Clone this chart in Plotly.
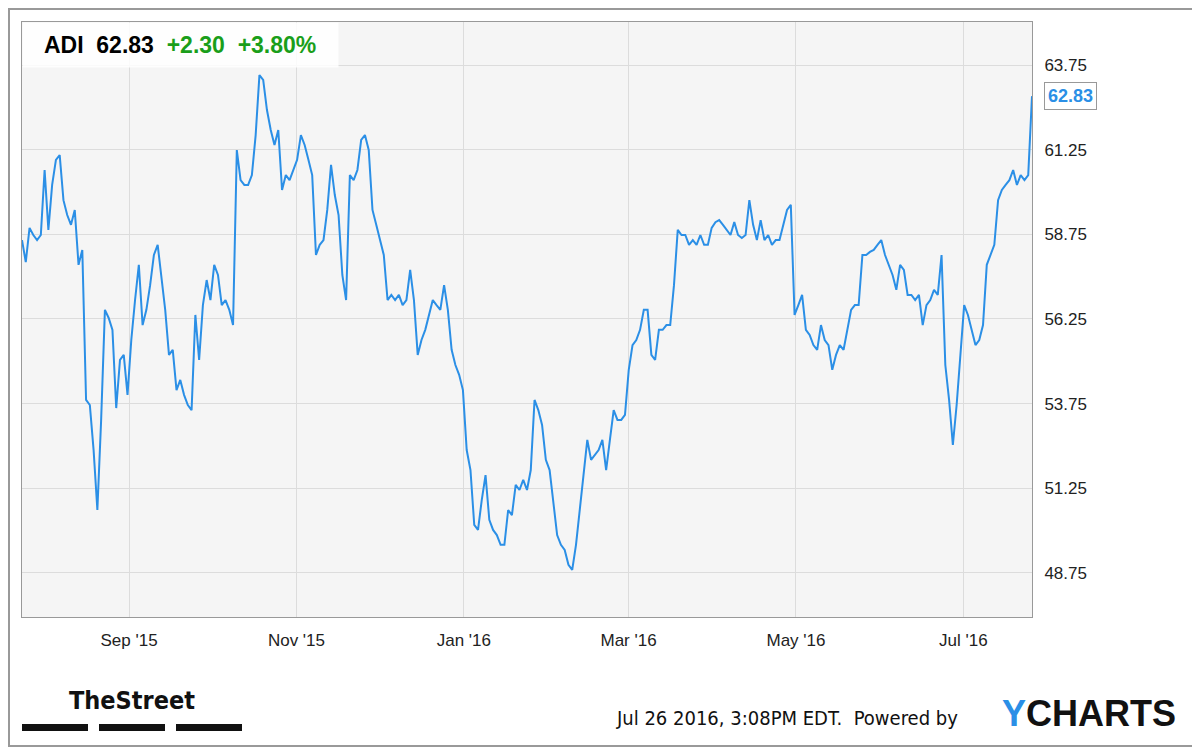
import pandas as pd
import plotly.graph_objects as go

values = [58.58,57.93,58.94,58.73,58.58,58.73,60.65,58.88,60.21,60.95,61.09,59.76,59.32,59.03,59.47,57.85,58.29,53.86,53.71,52.38,50.61,53.27,56.52,56.28,55.93,53.62,55.04,55.19,54.01,55.63,56.81,57.85,56.07,56.52,57.25,58.14,58.44,57.40,56.52,55.19,55.34,54.15,54.45,54.01,53.71,53.56,56.37,55.04,56.66,57.40,56.81,57.85,57.55,56.66,56.81,56.52,56.07,61.24,60.35,60.21,60.21,60.50,61.68,63.45,63.31,62.42,61.83,61.39,61.83,60.06,60.50,60.35,60.65,60.95,61.68,61.39,60.95,60.50,58.14,58.44,58.58,59.47,60.80,59.91,59.32,57.55,56.81,60.50,60.35,60.65,61.54,61.68,61.24,59.47,59.03,58.58,58.14,56.81,56.96,56.81,56.96,56.66,56.81,57.70,56.81,55.19,55.63,55.93,56.37,56.81,56.66,56.52,57.25,56.52,55.34,54.89,54.60,54.15,52.38,51.79,50.17,50.02,50.91,51.64,50.32,50.02,49.87,49.58,49.58,50.61,50.46,51.35,51.20,51.50,51.20,51.79,53.86,53.56,53.12,52.09,51.79,50.91,49.87,49.58,49.43,48.99,48.84,49.58,50.61,51.64,52.68,52.09,52.24,52.38,52.68,51.79,52.68,53.56,53.27,53.27,53.42,54.75,55.48,55.63,55.93,56.52,56.52,55.19,55.04,55.93,55.93,56.07,56.07,57.25,58.88,58.73,58.73,58.44,58.58,58.44,58.73,58.44,58.44,58.94,59.11,59.17,59.03,58.88,58.73,59.11,58.73,58.64,58.73,59.76,59.03,58.58,59.17,58.58,58.73,58.44,58.58,58.58,59.03,59.47,59.62,56.37,56.66,56.96,55.93,55.78,55.48,55.34,56.07,55.63,55.48,54.75,55.19,55.48,55.34,55.93,56.52,56.66,56.66,58.14,58.14,58.23,58.29,58.44,58.58,58.14,57.85,57.55,57.11,57.85,57.70,56.96,56.96,56.81,56.96,56.07,56.66,56.81,57.11,56.96,58.14,54.89,53.86,52.53,53.71,55.34,56.66,56.37,55.93,55.48,55.63,56.07,57.85,58.14,58.44,59.76,60.06,60.21,60.35,60.65,60.21,60.50,60.35,60.50,62.83]

dates = pd.date_range(start="2015-07-24", end="2016-07-26", periods=len(values))
y_ticks = [48.75, 51.25, 53.75, 56.25, 58.75, 61.25, 63.75]
x_ticks = ["2015-09-01", "2015-11-01", "2016-01-01", "2016-03-01", "2016-05-01", "2016-07-01"]
x_labels = ["Sep '15", "Nov '15", "Jan '16", "Mar '16", "May '16", "Jul '16"]

OFF = 8
W, H, L, R, T, B = 1192, 739, 14, 168, 14, 130
pw, ph = W - L - R, H - T - B
def px(x): return (x - OFF - L) / pw
def py(y): return (H - B - (y - OFF)) / ph

fig = go.Figure(go.Scatter(x=dates, y=values, mode="lines",
                           line=dict(color="#2b8fe6", width=2), hoverinfo="skip"))
shapes = [dict(type="rect", xref="paper", yref="paper", x0=px(9), x1=px(1199), y0=py(746), y1=py(9),
               line=dict(color="#999", width=2), fillcolor="rgba(0,0,0,0)", layer="below")]
for a, b in [(22, 88), (99, 165), (176, 242)]:
    shapes.append(dict(type="rect", xref="paper", yref="paper", x0=px(a), x1=px(b),
                       y0=py(731), y1=py(724), line=dict(width=0), fillcolor="#111"))
fig.update_layout(
    width=W, height=H, margin=dict(l=L, r=R, t=T, b=B, autoexpand=False),
    paper_bgcolor="white", plot_bgcolor="#f5f5f5", showlegend=False,
    font=dict(family="Liberation Sans, Arial", size=17, color="#222"),
    xaxis=dict(range=["2015-07-24", "2016-07-26"], tickvals=x_ticks, ticktext=x_labels,
               showgrid=True, gridcolor="#dcdcdc", ticks="", showline=True,
               linecolor="#999", mirror=True, zeroline=False, ticklabelstandoff=8),
    yaxis=dict(range=[47.45, 65.02], side="right", tickvals=y_ticks,
               ticktext=[f"{v:.2f}" for v in y_ticks], showgrid=True, gridcolor="#dcdcdc",
               ticks="", showline=True, linecolor="#999", mirror=True, zeroline=False,
               ticklabelstandoff=8),
    shapes=shapes,
)
fig.add_annotation(xref="paper", yref="paper", x=0.0, y=1.0, xanchor="left", yanchor="top",
                   text="<b>  ADI  62.83  <span style='color:#1a9e1a'>+2.30  +3.80%</span>  </b>",
                   showarrow=False, bgcolor="rgba(255,255,255,0.85)", borderpad=9,
                   font=dict(size=23, color="black"))
fig.add_annotation(x=dates[-1], y=values[-1], xref="x", yref="y", text="<b>62.83</b>",
                   showarrow=False, xanchor="left", xshift=12, bgcolor="white",
                   bordercolor="#999", borderwidth=1, borderpad=3,
                   font=dict(size=18, color="#2b8fe6"))
fig.add_annotation(xref="paper", yref="paper", x=px(132), y=py(700), xanchor="center", yanchor="middle",
                   text="<b>TheStreet</b>", showarrow=False,
                   font=dict(size=25, color="#111", family="DejaVu Sans Condensed, Liberation Sans"))
fig.add_annotation(xref="paper", yref="paper", x=px(960), y=py(718), xanchor="right", yanchor="middle",
                   text="Jul 26 2016, 3:08PM EDT.  Powered by", showarrow=False,
                   font=dict(size=20, color="#111", family="DejaVu Sans Condensed, Liberation Sans"))
fig.add_annotation(xref="paper", yref="paper", x=px(1178), y=py(713), xanchor="right", yanchor="middle",
                   text="<b><span style='color:#2b8fe6'>Y</span>CHARTS</b>", showarrow=False,
                   font=dict(size=36, color="#111"))
fig.write_html("out.html")
